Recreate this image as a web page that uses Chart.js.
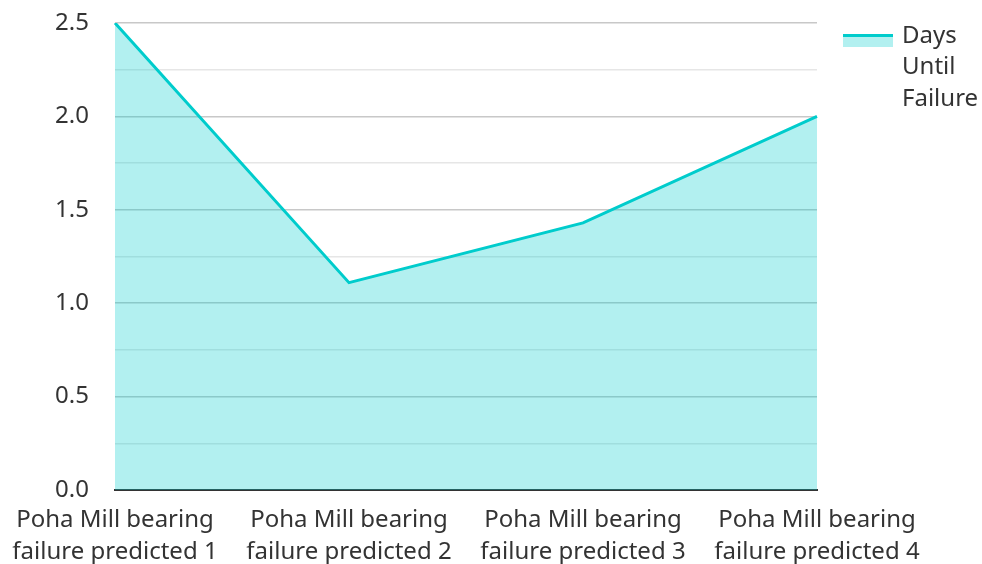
<!DOCTYPE html>
<html>
<head>
<meta charset="utf-8">
<script src="https://cdn.jsdelivr.net/npm/chart.js@4/dist/chart.umd.min.js"></script>
<style>
  html, body { margin: 0; padding: 0; background: #fff; }
  #wrap { width: 982px; height: 564px; position: relative; }
</style>
</head>
<body>
<div id="wrap"><canvas id="chart"></canvas></div>
<script>
const categories = [
  ["Poha Mill bearing", "failure predicted 1"],
  ["Poha Mill bearing", "failure predicted 2"],
  ["Poha Mill bearing", "failure predicted 3"],
  ["Poha Mill bearing", "failure predicted 4"],
];
const daysUntilFailure = [2.5, 1.11, 1.43, 2.0];
const seriesName = "Days Until Failure";
const legendLines = ["Days", "Until", "Failure"];

const lineColor = "#00cccc";
const fillColor = "rgba(0, 204, 204, 0.3)";
const textColor = "#333333";
const fontFamily = "'Noto Sans', 'Open Sans', sans-serif";

// legend drawn by hand so the name can wrap over three lines
const sideLegend = {
  id: "sideLegend",
  afterDraw(chart) {
    const ctx = chart.ctx;
    const x = chart.chartArea.right + 26;
    const y = 34;
    ctx.save();
    ctx.fillStyle = fillColor;
    ctx.fillRect(x, y, 50, 13);
    ctx.fillStyle = lineColor;
    ctx.fillRect(x, y, 50, 3);
    ctx.fillStyle = textColor;
    ctx.font = "24px " + fontFamily;
    ctx.textBaseline = "middle";
    legendLines.forEach((t, i) => ctx.fillText(t, x + 59, 36 + i * 31.5));
    ctx.restore();
  },
};

new Chart(document.getElementById("chart"), {
  type: "line",
  data: {
    labels: categories,
    datasets: [
      {
        label: seriesName,
        data: daysUntilFailure,
        borderColor: lineColor,
        backgroundColor: fillColor,
        borderWidth: 3,
        fill: "origin",
        tension: 0,
        pointRadius: 0,
      },
    ],
  },
  options: {
    responsive: true,
    maintainAspectRatio: false,
    animation: false,
    layout: { padding: { top: 23, right: 165, left: 0, bottom: 0 } },
    plugins: {
      legend: { display: false },
      tooltip: { enabled: false },
    },
    scales: {
      x: {
        offset: false,
        grid: { display: false, drawTicks: true, tickLength: 5 },
        border: { display: true, color: "#333333", width: 2 },
        ticks: {
          color: textColor,
          padding: 10,
          maxRotation: 0,
          autoSkip: false,
          font: { family: fontFamily, size: 24, lineHeight: 1.3 },
        },
        afterFit: (s) => { s.height = 74; },
      },
      y: {
        min: 0,
        max: 2.5,
        border: { display: false },
        grid: {
          drawTicks: true,
          tickLength: 20,
          tickColor: "rgba(0,0,0,0)",
          color: (c) => (Math.round(c.tick.value * 100) % 50 === 0 ? "#c8c8c8" : "#e6e6e6"),
          lineWidth: 1.5,
        },
        ticks: {
          stepSize: 0.25,
          color: textColor,
          padding: 6,
          font: { family: fontFamily, size: 24 },
          callback: (v) => (Math.round(v * 100) % 50 === 0 ? v.toFixed(1) : ""),
        },
        afterFit: (s) => { s.width = 115; },
      },
    },
  },
  plugins: [sideLegend],
});
</script>
</body>
</html>
